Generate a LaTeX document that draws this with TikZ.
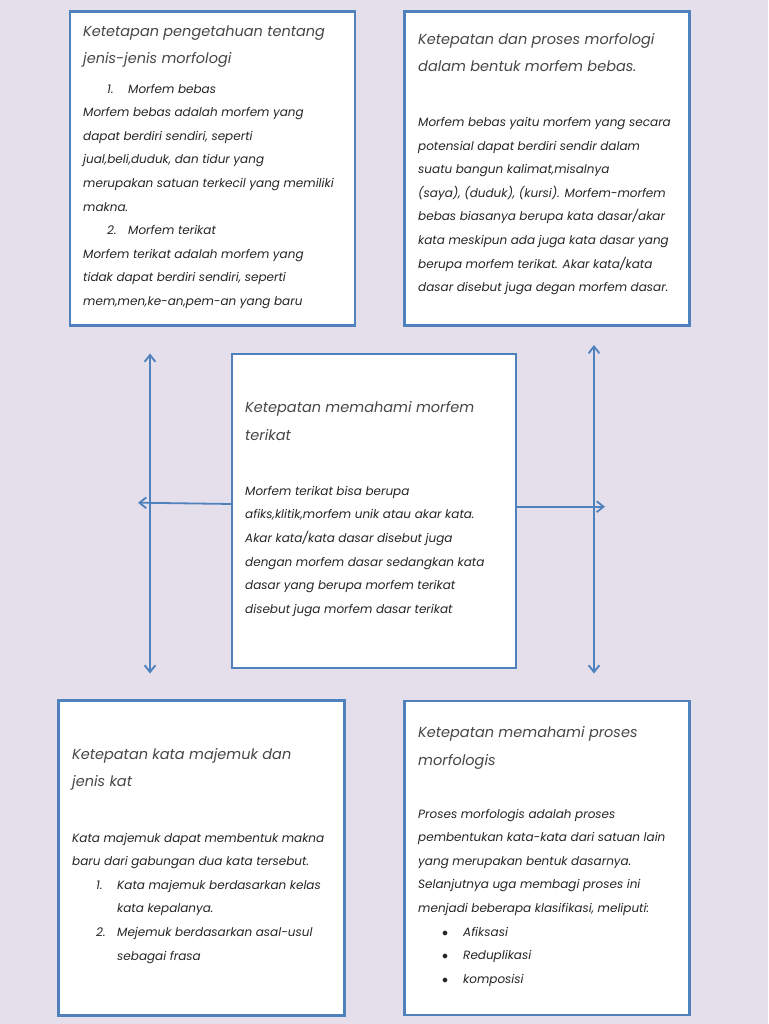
\documentclass[tikz,border=0pt]{standalone}
\usepackage{fontspec}
\setmainfont{Poppins}
\usetikzlibrary{arrows.meta,positioning}
\definecolor{latar}{HTML}{E5DFEC}
\definecolor{garis}{HTML}{4F81BD}
\definecolor{tinta}{HTML}{262626}
\tikzset{
  kotak/.style={rectangle, draw=garis, line width=2.6pt, fill=white, inner sep=0pt, outer sep=0pt, anchor=north west},
  judul/.style={anchor=base west, align=left, inner sep=0pt, text=tinta!85, font=\fontsize{14.5}{27.5}\selectfont\itshape},
  isi/.style={anchor=base west, align=left, inner sep=0pt, text=tinta, font=\fontsize{12}{23.6}\selectfont\itshape},
  panah/.style={draw=garis, line width=1.8pt, -{Straight Barb[length=2.4mm,width=3.8mm]}},
  duapanah/.style={panah, {Straight Barb[length=2.4mm,width=3.8mm]}-{Straight Barb[length=2.4mm,width=3.8mm]}}
}
\newcommand{\nomor}[1]{\hspace*{24pt}\makebox[21pt][l]{#1}}
\newcommand{\sambung}{\hspace*{45pt}}

\begin{document}
\begin{tikzpicture}[x=1pt,y=1pt]
\fill[latar] (0,0) rectangle (768,-1024);
\useasboundingbox (0,0) rectangle (768,-1024);

% kotak-kotak
\node[kotak, minimum width=285pt, minimum height=314pt] (kiriatas) at (70,-11.5) {};
\node[kotak, minimum width=285pt, minimum height=314pt] (kananatas) at (404.5,-11.5) {};
\node[kotak, minimum width=284pt, minimum height=314pt] (tengah) at (232,-354) {};
\node[kotak, minimum width=286pt, minimum height=315pt] (kiribawah) at (58.5,-700.5) {};
\node[kotak, minimum width=285pt, minimum height=314pt] (kananbawah) at (404.5,-701) {};

% teks (titik acuan = garis dasar baris terakhir)
\node[judul] (kiriatasJ) at (83,-64) {Ketetapan pengetahuan tentang\\jenis-jenis morfologi};
\node[isi] (kiriatasI) at (83,-305.5) {\nomor{1.}Morfem bebas\\
Morfem bebas adalah morfem yang\\
dapat berdiri sendiri, seperti\\
jual,beli,duduk, dan tidur yang\\
merupakan satuan terkecil yang memiliki\\
makna.\\
\nomor{2.}Morfem terikat\\
Morfem terikat adalah morfem yang\\
tidak dapat berdiri sendiri, seperti\\
mem,men,ke-an,pem-an yang baru};

\node[judul] (kananatasJ) at (418,-71.7) {Ketepatan dan proses morfologi\\dalam bentuk morfem bebas.};
\node[isi] (kananatasI) at (418,-291.7) {Morfem bebas yaitu morfem yang secara\\
potensial dapat berdiri sendir dalam\\
suatu bangun kalimat,misalnya\\
(saya), (duduk), (kursi). Morfem-morfem\\
bebas biasanya berupa kata dasar/akar\\
kata meskipun ada juga kata dasar yang\\
berupa morfem terikat. Akar kata/kata\\
dasar disebut juga degan morfem dasar.};

\node[judul] (tengahJ) at (245,-440) {Ketepatan memahami morfem\\terikat};
\node[isi] (tengahI) at (245,-613.3) {Morfem terikat bisa berupa\\
afiks,klitik,morfem unik atau akar kata.\\
Akar kata/kata dasar disebut juga\\
dengan morfem dasar sedangkan kata\\
dasar yang berupa morfem terikat\\
disebut juga morfem dasar terikat};

\node[judul] (kiribawahJ) at (72,-786.7) {Ketepatan kata majemuk dan\\jenis kat};
\node[isi] (kiribawahI) at (72,-960) {Kata majemuk dapat membentuk makna\\
baru dari gabungan dua kata tersebut.\\
\nomor{1.}Kata majemuk berdasarkan kelas\\
\sambung kata kepalanya.\\
\nomor{2.}Mejemuk berdasarkan asal-usul\\
\sambung sebagai frasa};

\node[judul] (kananbawahJ) at (418,-765) {Ketepatan memahami proses\\morfologis};
\node[isi] (kananbawahI) at (418,-983.3) {Proses morfologis adalah proses\\
pembentukan kata-kata dari satuan lain\\
yang merupakan bentuk dasarnya.\\
Selanjutnya uga membagi proses ini\\
menjadi beberapa klasifikasi, meliputi:\\
\nomor{$\bullet$}Afiksasi\\
\nomor{$\bullet$}Reduplikasi\\
\nomor{$\bullet$}komposisi};

% panah
\coordinate (kiriA) at (150,-353.5);
\coordinate (kiriB) at (150,-673.5);
\coordinate (kananA) at (594,-345);
\coordinate (kananB) at (594,-673.5);
\coordinate (ujungkiri) at (138,-502.7);
\coordinate (ujungkanan) at (605,-506.7);
\draw[duapanah] (kiriA) -- (kiriB);
\draw[duapanah] (kananA) -- (kananB);
\draw[panah] (tengah.west |- 0,-504) -- (ujungkiri);
\draw[panah] (tengah.east |- 0,-506.7) -- (ujungkanan);
\end{tikzpicture}
\end{document}
